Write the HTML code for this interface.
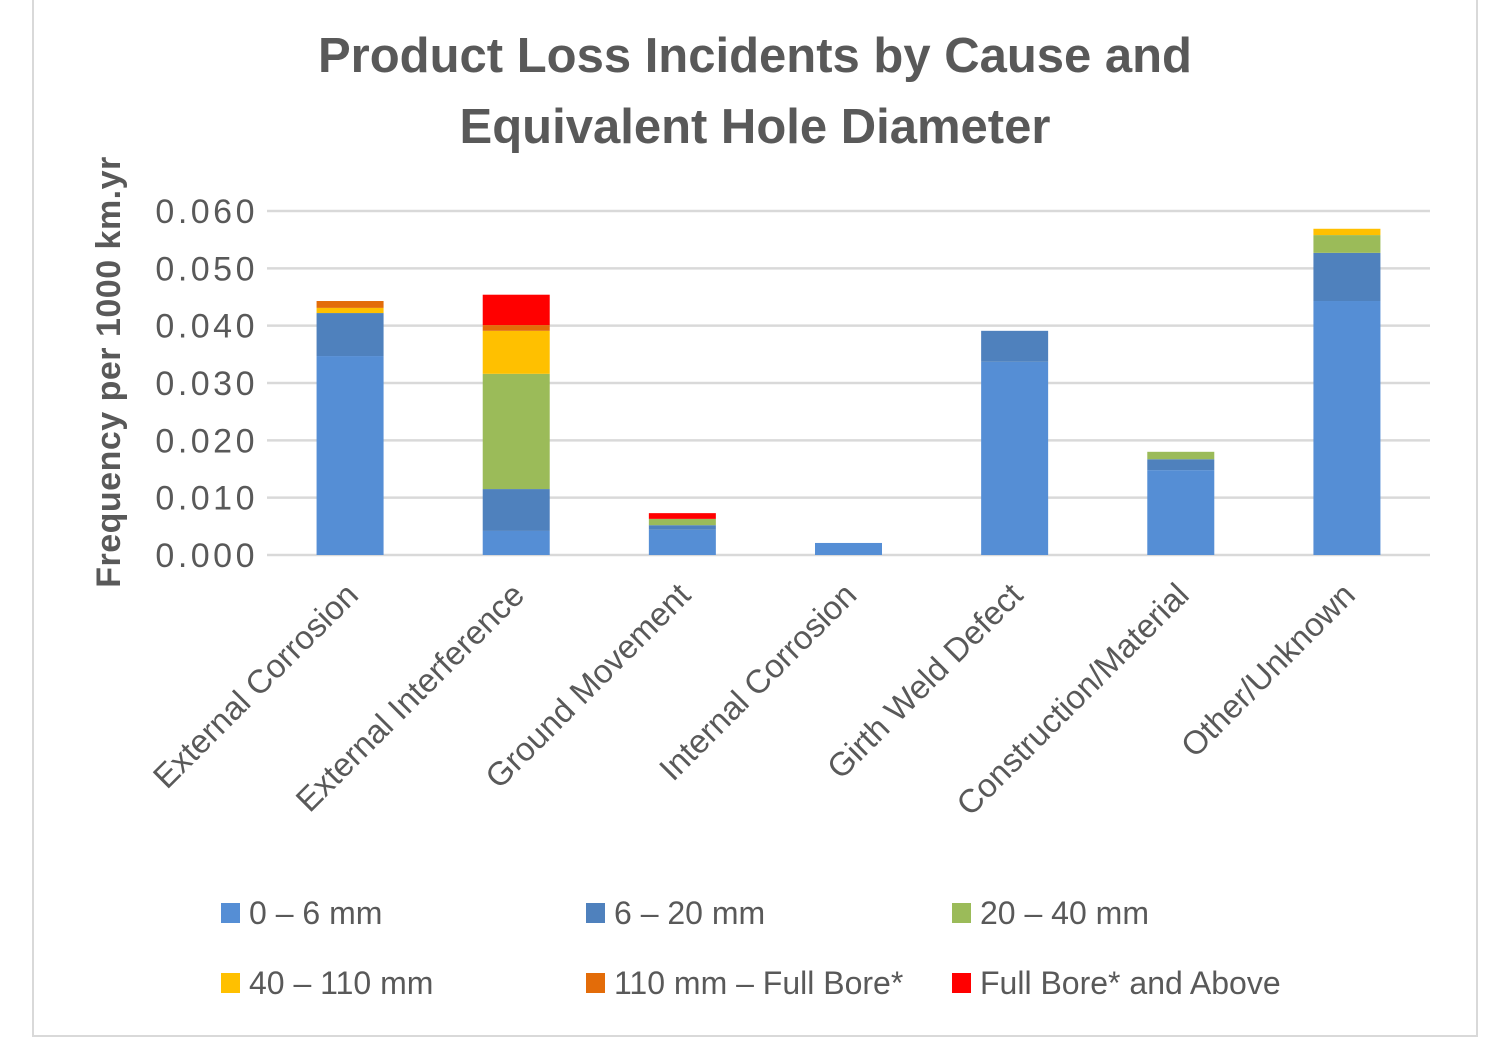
<!DOCTYPE html>
<html><head><meta charset="utf-8"><style>
body{margin:0;background:#fff;}
svg{display:block;font-family:"Liberation Sans",Calibri,sans-serif;}
</style></head><body>
<svg id="chart" width="1495" height="1044" xmlns="http://www.w3.org/2000/svg">
<rect x="33" y="-2" width="1444" height="1038" fill="#fff" stroke="#d9d9d9" stroke-width="2"/>
<text x="755" y="72" text-anchor="middle" font-size="49" font-weight="bold" fill="#595959">Product Loss Incidents by Cause and</text>
<text x="755" y="143" text-anchor="middle" font-size="49" font-weight="bold" fill="#595959">Equivalent Hole Diameter</text>
<text transform="translate(120,372) rotate(-90)" text-anchor="middle" font-size="34" font-weight="bold" fill="#595959" letter-spacing="0.5">Frequency per 1000 km.yr</text>
<g id="grid"></g><g id="bars"></g><g id="xlabels"></g><g id="legend"></g>
</svg>
<script>
const categories=["External Corrosion","External Interference","Ground Movement","Internal Corrosion","Girth Weld Defect","Construction/Material","Other/Unknown"];
const seriesNames=["0 – 6 mm","6 – 20 mm","20 – 40 mm","40 – 110 mm","110 mm – Full Bore*","Full Bore* and Above"];
const s0=[0.0347,0.0042,0.0044,0.0021,0.0337,0.0148,0.0443];
const s1=[0.0075,0.0073,0.0008,0,0.0054,0.0019,0.0084];
const s2=[0,0.0201,0.0011,0,0,0.0013,0.0031];
const s3=[0.0009,0.0075,0,0,0,0,0.0011];
const s4=[0.0012,0.0010,0,0,0,0,0];
const s5=[0,0.0053,0.0010,0,0,0,0];
const yTicks=[0,0.01,0.02,0.03,0.04,0.05,0.06];
const colors=["#558ed5","#4f81bd","#9bbb59","#ffc000","#e36c09","#ff0000"];
const series=[s0,s1,s2,s3,s4,s5];
const NS="http://www.w3.org/2000/svg";
const X0=267,X1=1430,Y0=555,Y1=211;
const y=v=>Y0-(v/0.06)*(Y0-Y1);
const band=(X1-X0)/categories.length;
const cx=i=>X0+band*(i+0.5);
const bw=67;
function mk(t,a,p){const e=document.createElementNS(NS,t);for(const k in a)e.setAttribute(k,a[k]);p.appendChild(e);return e;}
const grid=document.getElementById('grid');
yTicks.forEach(t=>{
 const l=mk('line',{x1:X0,x2:X1,y1:y(t),y2:y(t),stroke:'#d9d9d9','stroke-width':2.5},grid);
 
 
 const tx=mk('text',{x:258,y:y(t)+12,'text-anchor':'end','font-size':34,'letter-spacing':3.5,fill:'#595959'},grid);
 tx.textContent=t.toFixed(3);
 
 
});
const bars=document.getElementById('bars');
categories.forEach((c,i)=>{
 let base=0;
 series.forEach((s,k)=>{
  const v=s[i]; if(v<=0)return;
  const r=mk('rect',{x:cx(i)-bw/2,y:y(base+v),width:bw,height:y(base)-y(base+v),fill:colors[k]},bars);
  
  
  base+=v;
 });
 const tx=mk('text',{transform:`translate(${cx(i)+10},${Y0+42}) rotate(-45)`,'text-anchor':'end','font-size':33,fill:'#595959'},document.getElementById('xlabels'));
 tx.textContent=c;
 
 
});
const lg=document.getElementById('legend');
const lx=[221,586,952],ly=[903,973];
seriesNames.forEach((n,k)=>{
 const x=lx[k%3],yy=ly[Math.floor(k/3)];
 const r=mk('rect',{x:x,y:yy,width:19,height:20,fill:colors[k]},lg);
 
 
 const t=mk('text',{x:x+28,y:yy+21,'font-size':32,fill:'#595959'},lg);
 t.textContent=n;
 
 
});
</script>
</body></html>
